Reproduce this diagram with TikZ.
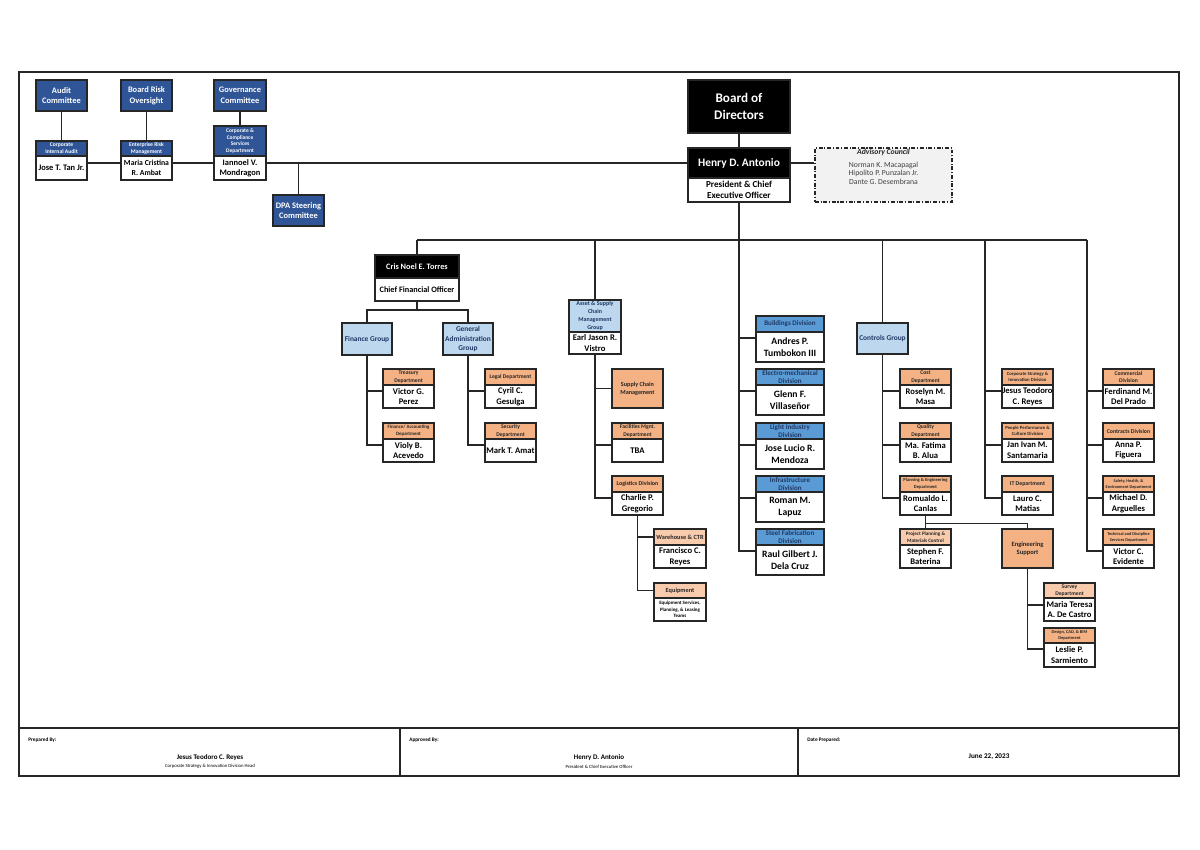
\documentclass[tikz,border=0pt]{standalone}
\usepackage{fontspec}
\setmainfont{Carlito}
\usetikzlibrary{calc}

\definecolor{cmteblue}{RGB}{47,85,151}
\definecolor{divblue}{RGB}{91,155,213}
\definecolor{grpblue}{RGB}{189,215,238}
\definecolor{orng}{RGB}{244,177,131}
\definecolor{lorng}{RGB}{248,203,173}
\definecolor{navytxt}{RGB}{31,56,100}
\definecolor{edge}{RGB}{38,38,38}
\definecolor{advfill}{RGB}{242,242,242}

\newcommand{\fsz}[2]{\fontsize{#1}{#2}\selectfont}
\def\bodyfont{\fsz{4.8}{6}}

\tikzset{
  sz/.style 2 args={minimum width={#1*0.02cm},minimum height={#2*0.02cm}},
  box/.style={draw=edge,line width=0.9pt,inner sep=0pt,align=center},
  body/.style={box,fill=white,text=black,font={\bfseries\bodyfont}},
  cmte/.style={box,fill=cmteblue,text=white,font={\bfseries\fsz{4.8}{6}}},
  hcmte/.style={box,fill=cmteblue,text=white},
  blk/.style={box,fill=black,text=white},
  grp/.style={box,fill=grpblue,text=navytxt,font={\bfseries\fsz{4.2}{5.4}}},
  hgrp/.style={box,fill=grpblue,text=navytxt},
  hdiv/.style={box,fill=divblue,text=navytxt,font={\bfseries\fsz{4}{4.3}}},
  hor/.style={box,fill=orng,text=black!85},
  hol/.style={box,fill=lorng,text=black!85},
  solo/.style={box,fill=orng,text=black!85,font={\bfseries\fsz{3.7}{4.8}}},
  conn/.style={draw=edge,line width=0.9pt},
  frame/.style={draw=edge,line width=0.8pt},
}

% header + body unit: name, centre x, top y, header h, body h, width, header style, header text, body text
\newcommand{\orgunit}[9]{%
  \node[#7,sz={#6}{#4}] (#1h) at (#2,{#3+#4/2}) {#8};
  \node[body,sz={#6}{#5}] (#1) at (#2,{#3+#4+#5/2}) {#9};
}
% branch from a spine to a unit, joining it a given distance below its top
\newcommand{\branch}[3]{\draw[conn] (#1) |- ($(#2h.north west)+(0,#3)$);}

\begin{document}
\begin{tikzpicture}[x=0.02cm,y=-0.02cm]
\useasboundingbox (0,0) rectangle (1200,849);

% outer frame and footer grid
\draw[frame] (19,72) rectangle (1179,776);
\draw[frame] (19,728) -- (1179,728);
\draw[frame] (400,728) -- (400,776);
\draw[frame] (798,728) -- (798,776);

\coordinate (lineY) at (0,163);
\coordinate (busY) at (0,240);

% ---------- committees ----------
\node[cmte,sz={51}{31}] (audit) at (61.5,95.5) {Audit\\Committee};
\node[cmte,sz={51}{31}] (bro) at (146.5,95.5) {Board Risk\\Oversight};
\node[cmte,sz={52}{31}] (gov) at (240,95.5) {Governance\\Committee};

\def\bodyfont{\fsz{4.8}{5.8}}
\orgunit{cia}{61.5}{141}{15}{24}{51}{hcmte,font={\bfseries\fsz{3.2}{4}}}{Corporate\\Internal Audit}{Jose T. Tan Jr.}
\def\bodyfont{\fsz{4.4}{5.6}}
\orgunit{erm}{146.5}{141}{15}{24}{51}{hcmte,font={\bfseries\fsz{3.2}{4}}}{Enterprise Risk\\Management}{Maria Cristina\\R. Ambat}
\def\bodyfont{\fsz{4.8}{5.8}}
\orgunit{ccs}{240}{126}{30}{24}{52}{hcmte,font={\bfseries\fsz{3.1}{3.9}}}{Corporate \&\\Compliance\\Services\\Department}{Iannoel V.\\Mondragon}

\node[cmte,sz={51}{31}] (dpa) at (298.5,210.5) {DPA Steering\\Committee};

\draw[conn] (audit.south) -- (ciah.north);
\draw[conn] (bro.south) -- (ermh.north);
\draw[conn] (gov.south) -- (ccsh.north);

% ---------- board and president ----------
\node[blk,sz={102}{53},font={\bfseries\fsz{7.5}{9.3}}] (bod) at (739,106.5) {Board of\\Directors};
\def\bodyfont{\fsz{5.2}{6.6}}
\orgunit{ceo}{739}{148}{30}{24}{102}{blk,font={\bfseries\fsz{6.5}{7.5}}}{Henry D. Antonio}{President \& Chief\\Executive Officer}

\node[draw=edge,line width=0.7pt,fill=advfill,dash pattern=on 2.2pt off 1pt on 0.6pt off 1pt,sz={137}{54},inner sep=0pt] (adv) at (883.5,175) {};
\node[font={\bfseries\itshape\fsz{4.4}{5}},text=black!85,inner sep=0pt] (advt) at (883.5,152.5) {Advisory Council};
\node[font={\fsz{4.4}{4.8}},text=black!75,align=center,inner sep=0pt] (advn) at (883.5,173) {Norman K. Macapagal\\Hipolito P. Punzalan Jr.\\Dante G. Desembrana};

\draw[conn] (bod.south) -- (ceoh.north);
\draw[conn] (ceoh.east) -- (adv.west |- ceoh.east);
\draw[conn] (cia.east |- lineY) -- (erm.west |- lineY);
\draw[conn] (erm.east |- lineY) -- (ccs.west |- lineY);
\draw[conn] (ccs.east |- lineY) -- (ceoh.west |- lineY);
\draw[conn] (dpa.north) -- (dpa.north |- lineY);

% ---------- main bus ----------
\coordinate (sp3) at (985,240);
\coordinate (sp4) at (1087,240);
\def\bodyfont{\fsz{4.7}{5.6}}
\orgunit{cfo}{417}{255}{23}{23}{84}{blk,font={\bfseries\fsz{4.7}{5.6}}}{Cris Noel E. Torres}{Chief Financial Officer}
\draw[conn] (ceo.south) -- (ceo.south |- busY);
\draw[conn] (cfoh.north |- busY) -- (sp4);
\draw[conn] (cfoh.north |- busY) -- (cfoh.north);

% ---------- finance ----------
\node[grp,sz={50}{32}] (fin) at (367,339) {Finance Group};
\node[grp,sz={50}{32}] (gad) at (468,339) {General\\Administration\\Group};
\coordinate (cfoj) at ($(cfo.south)+(0,8)$);
\draw[conn] (cfo.south) -- (cfoj);
\draw[conn] (fin.north) |- (cfoj) -| (gad.north);

\def\bodyfont{\fsz{4.9}{6}}
\orgunit{tre}{408.5}{369}{16}{23}{51}{hor,font={\bfseries\fsz{3.2}{4.2}}}{Treasury\\Department}{Victor G.\\Perez}
\orgunit{fac}{408.5}{423}{16}{23}{51}{hor,font={\bfseries\fsz{2.8}{4}}}{Finance/ Accounting\\Department}{Violy B.\\Acevedo}
\orgunit{leg}{510.5}{369}{16}{23}{51}{hor,font={\bfseries\fsz{3.2}{4.2}}}{Legal Department}{Cyril C.\\Gesulga}
\orgunit{sec}{510.5}{423}{16}{23}{51}{hor,font={\bfseries\fsz{3.2}{4.2}}}{Security\\Department}{Mark T. Amat}
\branch{fin.south}{tre}{23}
\branch{fin.south}{fac}{23}
\branch{gad.south}{leg}{23}
\branch{gad.south}{sec}{23}

% ---------- asset & supply chain ----------
\def\bodyfont{\fsz{4.9}{6}}
\orgunit{asg}{595}{300}{32}{22}{52}{hgrp,font={\bfseries\fsz{3.4}{4.5}}}{Asset \& Supply\\Chain\\Management\\Group}{Earl Jason R.\\Vistro}
\draw[conn] (asgh.north |- busY) -- (asgh.north);
\node[solo,font={\bfseries\fsz{3.5}{4.6}},sz={51}{39}] (scm) at (637.5,388.5) {Supply Chain\\Management};
\orgunit{fmd}{637.5}{423}{16}{23}{51}{hor,font={\bfseries\fsz{3.2}{4.2}}}{Facilities Mgnt.\\Department}{TBA}
\orgunit{lgd}{637.5}{476}{16}{23}{51}{hor,font={\bfseries\fsz{3.4}{4}}}{Logistics Division}{Charlie P.\\Gregorio}
\draw[conn] (asg.south) |- (scm.west);
\branch{asg.south}{fmd}{23}
\branch{asg.south}{lgd}{23}
\orgunit{whs}{680}{529}{16}{23}{52}{hol,font={\bfseries\fsz{3.6}{4}}}{Warehouse \& CTR}{Francisco C.\\Reyes}
\def\bodyfont{\fsz{2.8}{3.8}}
\orgunit{eqp}{680}{583}{15}{23}{52}{hol,font={\bfseries\fsz{3.6}{4}}}{Equipment}{Equipment Services,\\Planning, \& Leasing\\Teams}
\draw[conn] (lgd.south) |- (whsh.west);
\draw[conn] (lgd.south) |- (eqph.west);

% ---------- divisions ----------
\def\bodyfont{\fsz{5.5}{6.6}}
\orgunit{bld}{790}{316}{16}{30}{68}{hdiv}{Buildings Division}{Andres P.\\Tumbokon III}
\orgunit{emd}{790}{369}{16}{30}{68}{hdiv}{Electro-mechanical\\Division}{Glenn F.\\Villaseñor}
\orgunit{lid}{790}{423}{16}{30}{68}{hdiv}{Light Industry\\Division}{Jose Lucio R.\\Mendoza}
\orgunit{ifd}{790}{476}{16}{30}{68}{hdiv}{Infrastructure\\Division}{Roman M.\\Lapuz}
\orgunit{sfd}{790}{529}{16}{30}{68}{hdiv}{Steel Fabrication\\Division}{Raul Gilbert J.\\Dela Cruz}
\branch{ceo.south}{bld}{22.5}
\branch{ceo.south}{emd}{22.5}
\branch{ceo.south}{lid}{22.5}
\branch{ceo.south}{ifd}{22.5}
\branch{ceo.south}{sfd}{22.5}

% ---------- controls ----------
\node[grp,sz={51}{31}] (ctl) at (882.5,338.5) {Controls Group};
\draw[conn] (ctl.north |- busY) -- (ctl.north);
\def\bodyfont{\fsz{4.9}{6}}
\orgunit{cst}{925.5}{369}{16}{23}{51}{hor,font={\bfseries\fsz{3.2}{4.2}}}{Cost\\Department}{Roselyn M.\\Masa}
\orgunit{qlt}{925.5}{423}{16}{23}{51}{hor,font={\bfseries\fsz{3.2}{4.2}}}{Quality\\Department}{Ma. Fatima\\B. Alua}
\orgunit{ped}{925.5}{476}{16}{23}{51}{hor,font={\bfseries\fsz{2.6}{3.8}}}{Planning \& Engineering\\Department}{Romualdo L.\\Canlas}
\orgunit{ppm}{925.5}{529}{16}{23}{51}{hol,font={\bfseries\fsz{2.9}{4}}}{Project Planning \&\\Materials Control}{Stephen F.\\Baterina}
\branch{ctl.south}{cst}{23}
\branch{ctl.south}{qlt}{23}
\branch{ctl.south}{ped}{23}
\draw[conn] (ped.south) -- (ppmh.north);

% ---------- corporate services column ----------
\orgunit{csi}{1027.5}{369}{16}{23}{51}{hor,font={\bfseries\fsz{2.7}{3.8}}}{Corporate Strategy \&\\Innovation Division}{Jesus Teodoro\\C. Reyes}
\orgunit{ppc}{1027.5}{423}{16}{23}{51}{hor,font={\bfseries\fsz{2.7}{3.8}}}{People Performance \&\\Culture Division}{Jan Ivan M.\\Santamaria}
\orgunit{itd}{1027.5}{476}{16}{23}{51}{hor,font={\bfseries\fsz{3.3}{4}}}{IT Department}{Lauro C.\\Matias}
\draw[conn] (sp3 |- busY) -- (sp3);
\branch{sp3}{csi}{23}
\branch{sp3}{ppc}{23}
\branch{sp3}{itd}{23}

\node[solo,sz={51}{39}] (eng) at (1027.5,548.5) {Engineering\\Support};
\coordinate (pedj) at ($(ped.south)+(0,7.5)$);
\draw[conn] (pedj) -| (eng.north);
\orgunit{svy}{1069.5}{583}{15}{23}{51}{hol,font={\bfseries\fsz{3.2}{4.2}}}{Survey\\Department}{Maria Teresa\\A. De Castro}
\orgunit{dcb}{1069.5}{628}{15}{24}{51}{hor,font={\bfseries\fsz{2.5}{3.7}}}{Design, CAD, \& BIM\\Department}{Leslie P.\\Sarmiento}
\branch{eng.south}{svy}{23}
\branch{eng.south}{dcb}{22}

% ---------- commercial column ----------
\orgunit{cmd}{1128.5}{369}{16}{23}{51}{hor,font={\bfseries\fsz{3.2}{4.2}}}{Commercial\\Division}{Ferdinand M.\\Del Prado}
\orgunit{ctd}{1128.5}{423}{16}{23}{51}{hor,font={\bfseries\fsz{3.3}{4}}}{Contracts Division}{Anna P.\\Figuera}
\orgunit{she}{1128.5}{476}{16}{23}{51}{hor,font={\bfseries\fsz{2.45}{3.6}}}{Safety, Health, \&\\Environment Department}{Michael D.\\Arguelles}
\orgunit{tds}{1128.5}{529}{16}{23}{51}{hor,font={\bfseries\fsz{2.45}{3.6}}}{Technical and Discipline\\Services Department}{Victor C.\\Evidente}
\branch{sp4}{cmd}{23}
\branch{sp4}{ctd}{23}
\branch{sp4}{she}{23}
\branch{sp4}{tds}{23}

% ---------- footer ----------
\node[anchor=west,font={\bfseries\fsz{3}{3.6}},inner sep=0pt] (prepl) at (28,740) {Prepared By:};
\node[font={\bfseries\fsz{4}{4.5}},inner sep=0pt] (prepn) at (210,758) {Jesus Teodoro C. Reyes};
\node[font={\fsz{2.7}{3}},inner sep=0pt] (prept) at (210,766.5) {Corporate Strategy \& Innovation Division Head};
\node[anchor=west,font={\bfseries\fsz{3}{3.6}},inner sep=0pt] (apprl) at (409,740) {Approved By:};
\node[font={\bfseries\fsz{4}{4.5}},inner sep=0pt] (apprn) at (599,758) {Henry D. Antonio};
\node[font={\fsz{2.7}{3}},inner sep=0pt] (apprt) at (599,766.5) {President \& Chief Executive Officer};
\node[anchor=west,font={\bfseries\fsz{3}{3.6}},inner sep=0pt] (datel) at (807,740) {Date Prepared:};
\node[font={\bfseries\fsz{4.1}{4.6}},inner sep=0pt] (daten) at (989,757) {June 22, 2023};
\end{tikzpicture}
\end{document}
